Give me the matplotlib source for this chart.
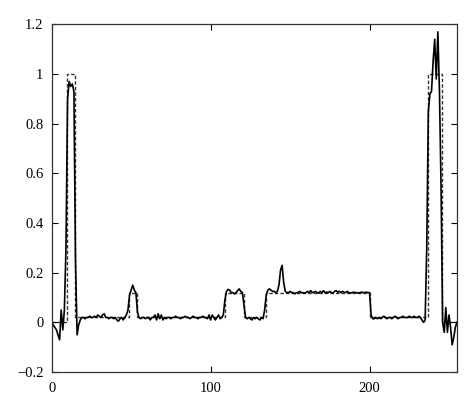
import numpy as np
import matplotlib
matplotlib.use("Agg")
import matplotlib.pyplot as plt

# reconstructed signal, one value per sample (0..255)
recon = [
    0.00, -0.01, -0.02, -0.03, -0.05, -0.07, 0.05, -0.03, 0.05, 0.30, 0.90, 0.97, 0.95, 0.96, 0.93, 0.25,
    -0.05, -0.01, 0.01, 0.02, 0.02, 0.015, 0.02, 0.02, 0.025, 0.02, 0.02, 0.025, 0.02, 0.03, 0.025, 0.02,
    0.03, 0.035, 0.02, 0.02, 0.015, 0.02, 0.02, 0.015, 0.02, 0.01, 0.005, 0.015, 0.02, 0.01, 0.02, 0.03,
    0.05, 0.11, 0.13, 0.15, 0.13, 0.12, 0.04, 0.02, 0.015, 0.02, 0.02, 0.015, 0.02, 0.02, 0.01, 0.02,
    0.02, 0.03, 0.01, 0.035, 0.015, 0.03, 0.01, 0.02, 0.015, 0.02, 0.02, 0.015, 0.02, 0.02, 0.025, 0.02,
    0.02, 0.015, 0.02, 0.02, 0.025, 0.02, 0.02, 0.015, 0.02, 0.025, 0.02, 0.02, 0.015, 0.02, 0.02, 0.025,
    0.02, 0.02, 0.015, 0.03, 0.01, 0.03, 0.02, 0.01, 0.02, 0.03, 0.015, 0.02, 0.03, 0.09, 0.125, 0.133,
    0.13, 0.12, 0.12, 0.115, 0.12, 0.128, 0.135, 0.125, 0.12, 0.07, 0.02, 0.015, 0.02, 0.015, 0.01, 0.02,
    0.015, 0.02, 0.015, 0.01, 0.02, 0.015, 0.05, 0.11, 0.13, 0.135, 0.13, 0.125, 0.125, 0.12, 0.125, 0.15,
    0.21, 0.23, 0.16, 0.125, 0.12, 0.12, 0.125, 0.12, 0.12, 0.115, 0.12, 0.12, 0.125, 0.12, 0.12, 0.118,
    0.12, 0.125, 0.12, 0.128, 0.12, 0.122, 0.125, 0.12, 0.118, 0.125, 0.12, 0.128, 0.12, 0.122, 0.12, 0.125,
    0.12, 0.118, 0.125, 0.128, 0.122, 0.125, 0.12, 0.125, 0.122, 0.12, 0.125, 0.12, 0.118, 0.12, 0.122, 0.12,
    0.12, 0.118, 0.12, 0.122, 0.12, 0.12, 0.122, 0.12, 0.12, 0.03, 0.015, 0.015, 0.02, 0.015, 0.02, 0.015,
    0.02, 0.025, 0.02, 0.015, 0.02, 0.02, 0.015, 0.02, 0.025, 0.02, 0.015, 0.02, 0.02, 0.025, 0.02, 0.02,
    0.02, 0.025, 0.02, 0.02, 0.025, 0.02, 0.02, 0.025, 0.02, 0.01, 0.00, 0.01, 0.30, 0.85, 0.92, 0.93,
    1.05, 1.14, 0.98, 1.17, 0.93, 0.55, 0.00, -0.04, 0.06, -0.04, 0.03, -0.02, -0.09, -0.06, -0.02, 0.00,
]
samples = np.arange(len(recon))

# original piecewise-constant signal
true_edges = [0, 9.8, 14.4, 48.5, 53.5, 109.3, 121.3, 134.8, 200.5, 236.8, 245.3, 255]
true_levels = [0, 1.0, 0.02, 0.12, 0.02, 0.12, 0.02, 0.12, 0.02, 1.0, 0]

yticks = [-0.2, 0, 0.2, 0.4, 0.6, 0.8, 1, 1.2]
ylabels = ["\u22120.2", "0", "0.2", "0.4", "0.6", "0.8", "1", "1.2"]
xticks = [0, 100, 200]

plt.rcParams["font.family"] = ["Liberation Serif", "DejaVu Serif"]
plt.rcParams["font.size"] = 10.5

fig = plt.figure(figsize=(4.74, 4.13), dpi=100)
ax = fig.add_axes([0.109, 0.099, 0.855, 0.842])

ax.stairs(true_levels, true_edges, baseline=None, color="#333333",
          linestyle=(0, (2.5, 1.5)), linewidth=1.0)
ax.plot(samples, recon, color="black", linewidth=1.2)

ax.set_xlim(0, 255)
ax.set_ylim(-0.2, 1.2)
ax.set_xticks(xticks)
ax.set_xticklabels([str(t) for t in xticks])
ax.set_yticks(yticks)
ax.set_yticklabels(ylabels)
ax.tick_params(direction="in", length=4, width=0.8, top=True, right=True)
ax.tick_params(axis="y", pad=6)
ax.tick_params(axis="x", pad=7)
for s in ax.spines.values():
    s.set_linewidth(0.9)
    s.set_color("#333333")

fig.savefig("out.png", dpi=100)
